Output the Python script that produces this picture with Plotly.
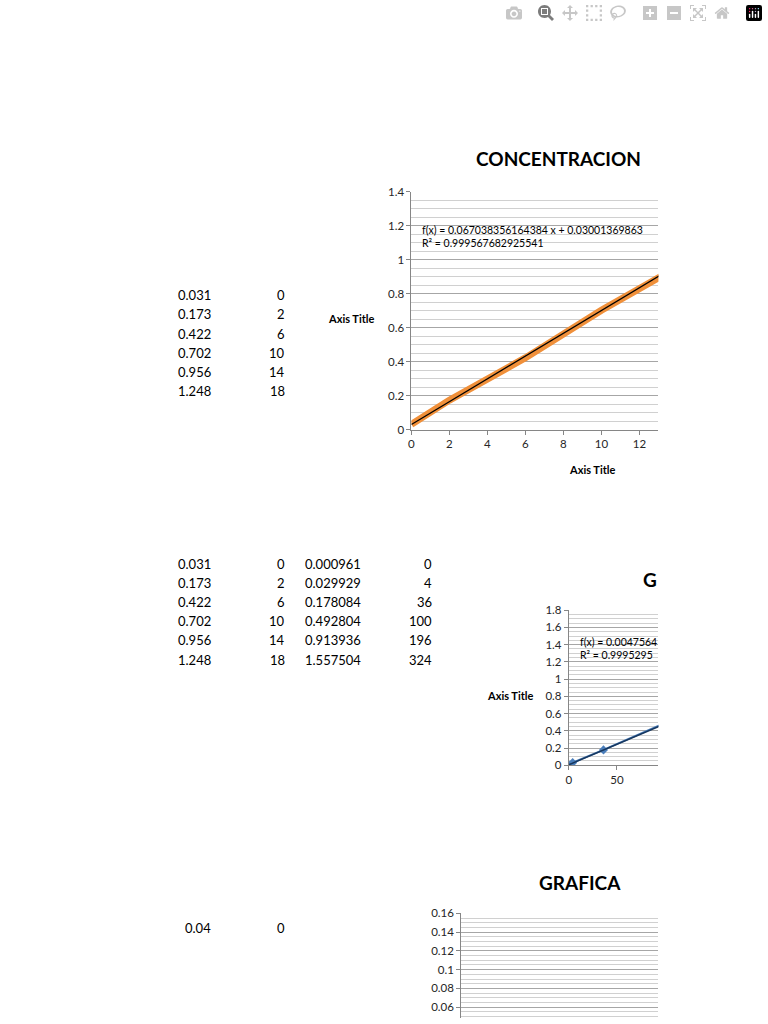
import numpy as np
import plotly.graph_objects as go

absorbancia = [0.031, 0.173, 0.422, 0.702, 0.956, 1.248]
concentracion = [0, 2, 6, 10, 14, 18]
abs_cuadrado = [0.000961, 0.029929, 0.178084, 0.492804, 0.913936, 1.557504]
conc_cuadrado = [0, 4, 36, 100, 196, 324]
tabla3_a = ["0.04"]
tabla3_b = ["0"]

pendiente1 = 0.067038356164384
intercepto1 = 0.03001369863
r2_1 = 0.999567682925541
pendiente2, intercepto2 = np.polyfit(conc_cuadrado, abs_cuadrado, 1)

W, H = 768, 1024
def px(x):
    return x / W
def py(y):
    return 1 - y / H

FONT = "Lato, Open Sans, sans-serif"
fig = go.Figure()

# chart 1: serie + linea de tendencia
fig.add_trace(go.Scatter(x=concentracion, y=absorbancia, mode="lines",
                         line=dict(color="#f0903a", width=7), xaxis="x", yaxis="y"))
fx1 = np.array([0, 18])
fig.add_trace(go.Scatter(x=fx1, y=pendiente1 * fx1 + intercepto1, mode="lines",
                         line=dict(color="black", width=1.3), xaxis="x", yaxis="y"))

# chart 2
fig.add_trace(go.Scatter(x=conc_cuadrado, y=abs_cuadrado, mode="lines+markers",
                         marker=dict(symbol="diamond", size=7, color="#4a7ebb"),
                         line=dict(color="#4a7ebb", width=2), xaxis="x2", yaxis="y2"))
fx2 = np.array([0, 324])
fig.add_trace(go.Scatter(x=fx2, y=pendiente2 * fx2 + intercepto2, mode="lines",
                         line=dict(color="#17375e", width=1.5), xaxis="x2", yaxis="y2"))

# chart 3 (vacio, solo ejes)
fig.add_trace(go.Scatter(x=[None], y=[None], mode="lines", xaxis="x3", yaxis="y3"))

grid = dict(showgrid=True, gridcolor="#a6a6a6", gridwidth=1, zeroline=False,
            showline=True, linecolor="#868686", ticks="outside", ticklen=4,
            tickcolor="#868686", tickfont=dict(family=FONT, size=11.5, color="#262626"))
xgrid = {k: v for k, v in grid.items() if k != "showgrid"}
minor = dict(showgrid=True, gridcolor="#d0d0d0", gridwidth=1)

fig.update_layout(
    width=W, height=H, margin=dict(l=0, r=0, t=0, b=0),
    paper_bgcolor="white", plot_bgcolor="white", showlegend=False,
    xaxis=dict(domain=[px(410), px(658)], anchor="y", range=[0, 13], dtick=2,
               showgrid=False, **xgrid),
    yaxis=dict(domain=[py(428), py(187)], anchor="x", range=[0, 1.4], dtick=0.2,
               minor=dict(dtick=0.05, **minor), **grid),
    xaxis2=dict(domain=[px(568), px(658)], anchor="y2", range=[0, 93], dtick=50,
                showgrid=False, **xgrid),
    yaxis2=dict(domain=[py(768), py(611)], anchor="x2", range=[0, 1.8], dtick=0.2,
                minor=dict(dtick=0.05, **minor), **grid),
    xaxis3=dict(domain=[px(460), px(658)], anchor="y3", visible=False, range=[0, 1]),
    yaxis3=dict(domain=[0, py(918)], anchor="x3", range=[0.0485, 0.16], dtick=0.02,
                minor=dict(dtick=0.005, **minor), **grid),
)

ann = []
def texto(x, y, t, size=13, bold=False, anchor="left"):
    ann.append(dict(x=px(x), y=py(y), xref="paper", yref="paper", showarrow=False,
                    xanchor=anchor, yanchor="middle",
                    text=f"<b>{t}</b>" if bold else t,
                    font=dict(family=FONT, size=size, color="black")))

# tabla 1
for i in range(len(absorbancia)):
    y = 292 + i * 19.4
    texto(211, y, f"{absorbancia[i]:.3f}", anchor="right")
    texto(285, y, str(concentracion[i]), anchor="right")
# tabla 2
for i in range(len(absorbancia)):
    y = 564 + i * 19.4
    texto(211, y, f"{absorbancia[i]:.3f}", anchor="right")
    texto(285, y, str(concentracion[i]), anchor="right")
    texto(361, y, f"{abs_cuadrado[i]:.6f}", anchor="right")
    texto(433, y, str(conc_cuadrado[i]), anchor="right")
# tabla 3
for i in range(len(tabla3_a)):
    texto(211, 933, tabla3_a[i], anchor="right")
    texto(285, 933, tabla3_b[i], anchor="right")

texto(558, 153, "CONCENTRACION", size=19, bold=True, anchor="center")
texto(641, 580, "G", size=19, bold=True)
texto(579, 887, "GRAFICA", size=19, bold=True, anchor="center")
texto(350, 315, "Axis Title", size=11, bold=True, anchor="center")
texto(592, 468, "Axis Title", size=11, bold=True, anchor="center")
texto(509, 697, "Axis Title", size=11, bold=True, anchor="center")

texto(419, 226, f"f(x) = {pendiente1:.15f} x + {intercepto1}", size=10.5)
texto(419, 239, f"R² = {r2_1}", size=10.5)
texto(577, 643, "f(x) = 0.0047564", size=10.5)
texto(577, 656, "R² = 0.9995295", size=10.5)

fig.update_layout(annotations=ann)
fig.write_html("out.html")

# quitar el margen del body para que la figura empiece en 0,0
with open("out.html") as f:
    html = f.read()
html = html.replace("<body>", '<body style="margin:0;overflow:hidden">', 1)
with open("out.html", "w") as f:
    f.write(html)
